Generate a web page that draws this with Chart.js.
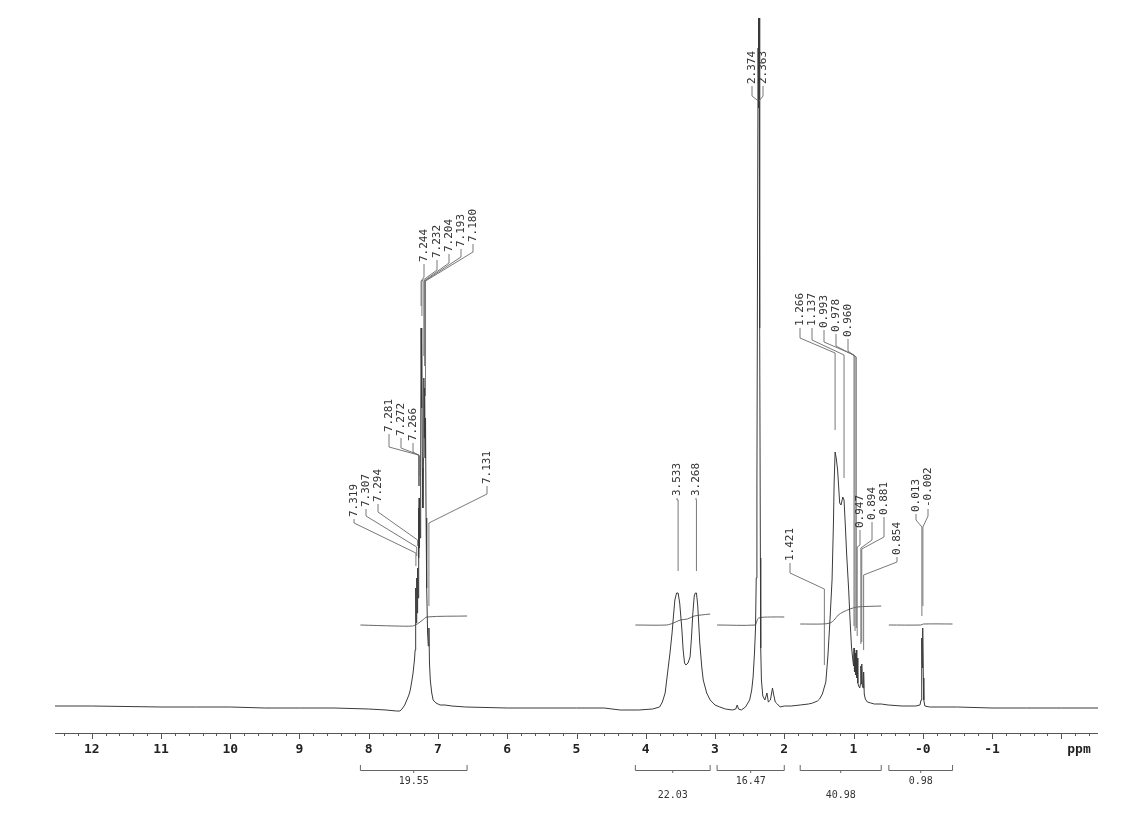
<!DOCTYPE html>
<html>
<head>
<meta charset="utf-8">
<script src="https://cdn.jsdelivr.net/npm/chart.js@4"></script>
<style>
  html, body { margin: 0; padding: 0; background: #fff; }
  #wrap { width: 1125px; height: 821px; }
</style>
</head>
<body>
<div id="wrap"><canvas id="nmr" width="1125" height="821"></canvas></div>
<script>
// spectrum trace (ppm, intensity above baseline)
const specPpm = [12.53, 12.0, 11.0, 10.5, 10.0, 9.5, 9.0, 8.5, 8.0, 7.75, 7.60, 7.55, 7.52, 7.48, 7.45, 7.42, 7.40, 7.38, 7.36, 7.34, 7.33,
  7.325, 7.319, 7.313, 7.307, 7.300, 7.294, 7.287, 7.281, 7.276, 7.272, 7.269, 7.266, 7.258, 7.250, 7.244, 7.238, 7.232, 7.225, 7.218,
  7.210, 7.204, 7.198, 7.193, 7.187, 7.180, 7.172, 7.163, 7.150, 7.140, 7.131, 7.123, 7.11, 7.09, 7.07, 7.03, 6.97, 6.90, 6.80, 6.6,
  6.0, 5.5, 5.0, 4.6, 4.37, 4.1, 3.90, 3.80, 3.76, 3.72, 3.68, 3.65, 3.62, 3.60, 3.58, 3.555, 3.533, 3.51, 3.48, 3.46, 3.44, 3.42, 3.39,
  3.36, 3.34, 3.32, 3.30, 3.285, 3.268, 3.25, 3.22, 3.19, 3.17, 3.12, 3.07, 3.00, 2.93, 2.85, 2.75, 2.70, 2.68, 2.66, 2.62, 2.56, 2.50,
  2.47, 2.45, 2.43, 2.415, 2.405, 2.395, 2.385, 2.378, 2.374, 2.369, 2.363, 2.358, 2.352, 2.345, 2.34, 2.33, 2.31, 2.28, 2.25, 2.23,
  2.20, 2.17, 2.155, 2.13, 2.10, 2.06, 2.00, 1.90, 1.77, 1.65, 1.59, 1.52, 1.49, 1.45, 1.421, 1.40, 1.37, 1.34, 1.31, 1.29, 1.28, 1.266,
  1.25, 1.23, 1.20, 1.18, 1.155, 1.137, 1.12, 1.10, 1.07, 1.05, 1.03, 1.01, 0.999, 0.993, 0.986, 0.978, 0.970, 0.960, 0.953, 0.947,
  0.938, 0.925, 0.910, 0.900, 0.894, 0.888, 0.881, 0.872, 0.862, 0.854, 0.845, 0.83, 0.80, 0.75, 0.70, 0.60, 0.50, 0.30, 0.10, 0.04,
  0.025, 0.018, 0.013, 0.008, 0.004, -0.002, -0.008, -0.015, -0.03, -0.1, -0.5, -1.0, -1.5, -2.0, -2.53];
const specInt = [2, 2, 1, 1, 1, 0, 0, 0, -1, -2, -3, -3, -1, 3, 8, 13, 18, 26, 35, 48, 58,
  90, 120, 85, 130, 95, 140, 110, 200, 150, 210, 160, 200, 170, 240, 380, 300, 370, 240, 200,
  250, 330, 270, 320, 250, 290, 190, 120, 75, 62, 80, 45, 27, 15, 8, 5, 3, 3, 2, 1,
  0, 0, 0, 0, -2, -2, -1, 1, 6, 15, 38, 55, 75, 92, 108, 115, 115, 105, 80, 58, 45, 43, 45,
  51, 70, 95, 112, 115, 115, 103, 65, 40, 28, 15, 8, 3, 1, -1, -2, -1, 3, -1, -2, 1, 8,
  18, 31, 55, 80, 130, 220, 480, 660, 690, 600, 690, 620, 380, 150, 60, 28, 12, 8, 15, 6,
  8, 20, 14, 6, 4, 1, 2, 2, 3, 4, 5, 7, 9, 14, 21, 26, 52, 88, 128, 185, 225, 256,
  250, 238, 205, 203, 211, 208, 185, 155, 118, 88, 62, 48, 42, 60, 36, 55, 33, 58, 30, 50,
  25, 22, 20, 24, 42, 24, 44, 22, 20, 36, 14, 9, 6, 5, 4, 4, 3, 2, 2, 3,
  8, 30, 70, 45, 40, 80, 30, 8, 2, 1, 1, 0, 0, 0, 0];

// picked peaks
const peakPpm = ['7.319', '7.307', '7.294', '7.281', '7.272', '7.266', '7.244', '7.232', '7.204', '7.193', '7.180', '7.131',
  '3.533', '3.268', '2.374', '2.363', '1.421', '1.266', '1.137', '0.993', '0.978', '0.960', '0.947', '0.894', '0.881', '0.854',
  '0.013', '-0.002'];

// integrals
const intFrom = [8.12, 4.15, 2.97, 1.77, 0.49];
const intTo = [6.58, 3.07, 2.00, 0.60, -0.43];
const intValues = ['19.55', '22.03', '16.47', '40.98', '0.98'];
const intCurvePpm = [
  [8.12, 7.62, 7.37, 7.30, 7.22, 7.16, 6.58],
  [4.15, 3.70, 3.60, 3.50, 3.40, 3.30, 3.20, 3.07],
  [2.97, 2.42, 2.40, 2.37, 2.20, 2.00],
  [1.77, 1.45, 1.34, 1.28, 1.22, 1.15, 1.05, 0.95, 0.60],
  [0.49, 0.03, -0.01, -0.43]
];
const intCurveVal = [
  [83, 82, 82, 84, 88, 91, 92],
  [83, 83, 85, 88, 89, 92, 93, 94],
  [83, 83, 86, 90, 91, 91],
  [84, 84, 85, 88, 93, 96, 99, 101, 102],
  [83, 83, 84, 84]
];

// axis
const tickValues = [12, 11, 10, 9, 8, 7, 6, 5, 4, 3, 2, 1, 0, -1];
const tickLabels = ['12', '11', '10', '9', '8', '7', '6', '5', '4', '3', '2', '1', '-0', '-1'];

// label placement (page layout, px): label x, text foot, elbow, join
const lblX = [354, 366, 378, 389, 401, 413, 424, 437, 449, 461, 473, 487, 677, 696, 752, 763, 790, 800, 812, 824, 836, 848, 860, 872, 884, 897, 916, 928];
const lblFoot = [518, 508, 503, 433, 437, 442, 263, 259, 253, 248, 243, 485, 497, 497, 85, 85, 562, 327, 327, 329, 333, 338, 529, 521, 516, 556, 513, 508];
const lblElbow = [523, 516, 512, 447, 448, 452, 277, 270, 263, 257, 252, 494, 500, 500, 96, 96, 573, 338, 340, 342, 346, 351, 545, 540, 537, 562, 520, 516];
const lblJoin = [553, 547, 540, 455, 455, 456, 281, 281, 281, 281, 281, 523, 500, 500, 101, 101, 589, 353, 355, 355, 356, 357, 547, 548, 549, 575, 527, 527];
const intLabelY = [781, 795, 781, 795, 781];

const MONO = '"DejaVu Sans Mono", "Liberation Mono", monospace';

function heightAt(ppm) {
  let best = 0, bd = 1e9;
  specPpm.forEach((p, i) => { const d = Math.abs(p - ppm); if (d < bd) { bd = d; best = specInt[i]; } });
  return best;
}

const nmrDecor = {
  id: 'nmrDecor',
  afterDatasetsDraw(chart) {
    const { ctx, chartArea: ca, scales: { x, y } } = chart;
    ctx.save();
    // ppm axis
    const ay = ca.bottom + 1;
    ctx.strokeStyle = '#555'; ctx.lineWidth = 1;
    ctx.beginPath(); ctx.moveTo(ca.left, ay + 0.5); ctx.lineTo(ca.right, ay + 0.5); ctx.stroke();
    for (let k = -12; k <= 62; k++) {
      const px = Math.round(x.getPixelForValue(k * 0.2)) + 0.5;
      const len = k % 5 === 0 ? 6 : 3;
      ctx.beginPath(); ctx.moveTo(px, ay); ctx.lineTo(px, ay + len); ctx.stroke();
    }
    ctx.fillStyle = '#222'; ctx.font = 'bold 13px ' + MONO;
    ctx.textAlign = 'center'; ctx.textBaseline = 'middle';
    tickValues.forEach((v, i) => ctx.fillText(tickLabels[i], x.getPixelForValue(v), 750));
    ctx.fillText('ppm', 1079, 750);

    // integral brackets
    ctx.strokeStyle = '#666'; ctx.font = '10px ' + MONO; ctx.fillStyle = '#333';
    intFrom.forEach((a, i) => {
      const x1 = x.getPixelForValue(a), x2 = x.getPixelForValue(intTo[i]), xm = (x1 + x2) / 2;
      ctx.beginPath();
      ctx.moveTo(x1, 765); ctx.lineTo(x1, 770.5); ctx.lineTo(x2, 770.5); ctx.lineTo(x2, 765);
      ctx.moveTo(xm, 770.5); ctx.lineTo(xm, 773);
      ctx.stroke();
      ctx.fillText(intValues[i], xm, intLabelY[i]);
    });

    // peak labels with leader lines
    ctx.strokeStyle = '#6a6a6a'; ctx.lineWidth = 0.9;
    peakPpm.forEach((lab, i) => {
      const v = parseFloat(lab);
      const px = x.getPixelForValue(v);
      const end = y.getPixelForValue(heightAt(v)) - 22;
      ctx.beginPath();
      ctx.moveTo(lblX[i], lblFoot[i] + 1);
      ctx.lineTo(lblX[i], lblElbow[i]);
      ctx.lineTo(px, lblJoin[i]);
      if (end > lblJoin[i]) ctx.lineTo(px, end);
      ctx.stroke();
      ctx.save();
      ctx.translate(lblX[i], lblFoot[i]);
      ctx.rotate(-Math.PI / 2);
      ctx.font = '11px ' + MONO; ctx.fillStyle = '#333';
      ctx.textAlign = 'left'; ctx.textBaseline = 'middle';
      ctx.fillText(lab, 1, 0.5);
      ctx.restore();
    });
    ctx.restore();
  }
};

const datasets = [{
  data: specPpm.map((p, i) => ({ x: p, y: specInt[i] })),
  borderColor: '#3a3a3a', borderWidth: 1, pointRadius: 0, tension: 0
}];
intCurvePpm.forEach((arr, k) => {
  datasets.push({
    data: arr.map((p, i) => ({ x: p, y: intCurveVal[k][i] })),
    borderColor: '#666', borderWidth: 1, pointRadius: 0, tension: 0.3
  });
});

new Chart(document.getElementById('nmr'), {
  type: 'line',
  data: { datasets },
  options: {
    responsive: false, animation: false, devicePixelRatio: 1,
    layout: { padding: { left: 55, right: 27, top: 18, bottom: 89 } },
    scales: {
      x: { type: 'linear', reverse: true, min: -2.53, max: 12.53, display: false },
      y: { min: -24, max: 690, display: false }
    },
    plugins: { legend: { display: false }, tooltip: { enabled: false } }
  },
  plugins: [nmrDecor]
});
</script>
</body>
</html>
